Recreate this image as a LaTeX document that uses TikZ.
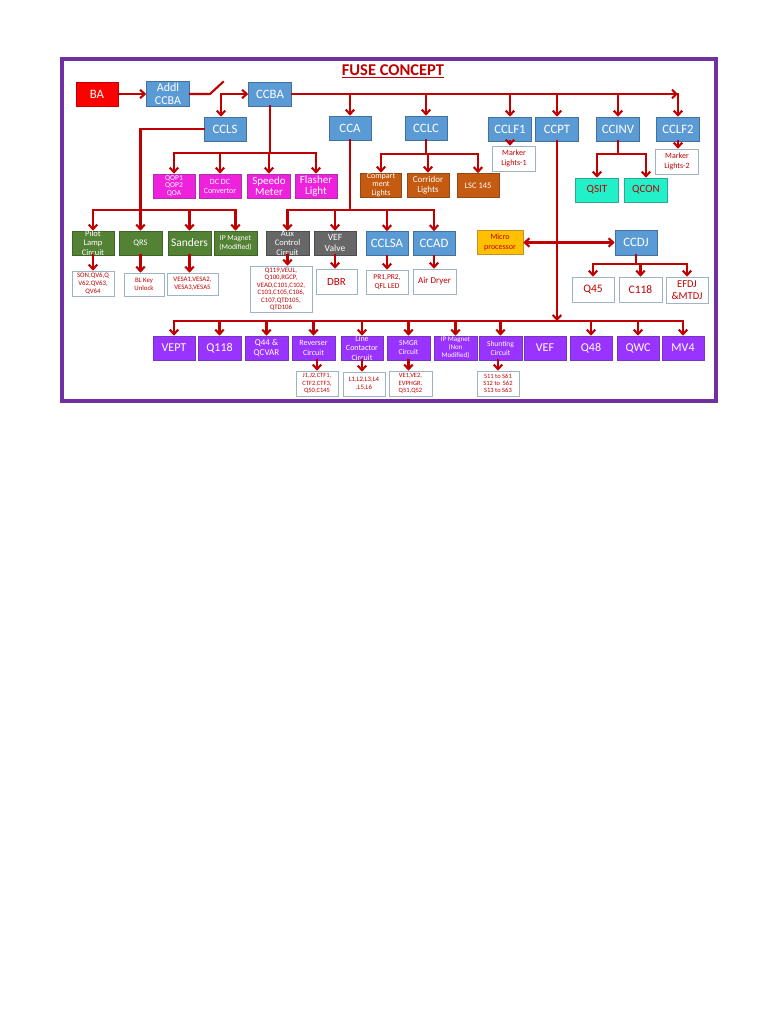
\documentclass[tikz,border=0pt]{standalone}
\usepackage{fontspec}
\setmainfont{Carlito}
\usetikzlibrary{arrows.meta}
\definecolor{cred}{HTML}{C00000}
\definecolor{cRedF}{HTML}{FF0000}
\definecolor{cblue}{HTML}{5B9BD5}
\definecolor{cblueD}{HTML}{41719C}
\definecolor{cmag}{HTML}{EE22DD}
\definecolor{cmagD}{HTML}{B030A8}
\definecolor{cbrown}{HTML}{C55A11}
\definecolor{cbrownD}{HTML}{8F4A1A}
\definecolor{cgreen}{HTML}{548235}
\definecolor{cgreenD}{HTML}{3F6228}
\definecolor{cgrey}{HTML}{676767}
\definecolor{cgreyD}{HTML}{4D4D4D}
\definecolor{cpur}{HTML}{9933FF}
\definecolor{cpurD}{HTML}{7A35C0}
\definecolor{cyel}{HTML}{FFC000}
\definecolor{cyelD}{HTML}{C09020}
\definecolor{ccyan}{HTML}{22F0C8}
\definecolor{ccyanD}{HTML}{30A890}
\definecolor{csub}{HTML}{9DB3C8}
\definecolor{cframe}{HTML}{7030A0}
\tikzset{
 fs/.style 2 args={font=\fontsize{#1}{#2}\selectfont},
 bx/.style={rectangle, minimum width=42pt, minimum height=24pt, inner sep=0pt, align=center, line width=0.7pt, text=white},
 blu/.style={bx, fill=cblue, draw=cblueD, fs={12.8}{14}},
 mag/.style={bx, fill=cmag, draw=cmagD},
 brn/.style={bx, fill=cbrown, draw=cbrownD},
 grn/.style={bx, fill=cgreen, draw=cgreenD},
 gry/.style={bx, fill=cgrey, draw=cgreyD},
 pur/.style={bx, fill=cpur, draw=cpurD},
 sub/.style={bx, fill=white, draw=csub, text=cred},
 ln/.style={draw=cred, line width=2.1pt, line cap=rect},
 tip/.tip={Straight Barb[length=4.5pt,width=8.5pt]},
 arr/.style={ln, -tip},
 ovl/.style={fs={8.5}{9.5}, text=white, align=center, inner sep=0pt}
}
\begin{document}
\begin{tikzpicture}[x=1pt,y=-1pt]
\fill[white] (0,0) rectangle (768,1024);
\useasboundingbox (0,0) rectangle (768,1024);
\draw[draw=cframe, line width=3.5pt] (61.8,58.8) rectangle (716.2,401.2);
\node[text=cred, font=\bfseries\fontsize{16.5}{18}\selectfont] (title) at (393,71) {\underline{FUSE CONCEPT}};

% top row
\node[bx, fill=cRedF, draw=cred, fs={12.8}{14}] (BA) at (97,94) {BA};
\node[blu, minimum width=43pt, minimum height=25pt, fs={12}{13}] (Addl) at (168,94) {Addl\\CCBA};
\node[blu, minimum width=43pt] (CCBA) at (270,94) {CCBA};
\node[blu] (CCLS) at (225,129) {CCLS};
\node[blu] (CCA) at (350,128) {CCA};
\node[blu] (CCLC) at (426,128) {CCLC};
\node[blu, minimum width=43pt] (CCLF1) at (510,129) {CCLF1};
\node[blu, minimum width=43pt] (CCPT) at (557,129) {CCPT};
\node[blu, minimum width=43pt] (CCINV) at (618,129) {CCINV};
\node[blu, minimum width=43pt] (CCLF2) at (678,129) {CCLF2};

% second row
\node[mag, fs={7.5}{7.8}] (QOP) at (174,186) {QOP1\\QOP2\\QOA};
\node[mag, fs={8}{9}] (DCDC) at (220,186) {DC DC\\Convertor};
\node[mag, minimum width=43pt, fs={11}{11.5}] (Speedo) at (269,186) {Speedo\\Meter};
\node[mag, fs={11}{11.5}] (Flasher) at (316,186) {Flasher\\Light};
\node[brn, minimum width=41pt, label={[ovl, fs={8}{8.6}]center:Compart\\ment\\Lights}] (Comp) at (381,185) {};
\node[brn, fs={9}{10}] (Corr) at (428,185) {Corridor\\Lights};
\node[brn, fs={8.5}{9}] (LSC) at (478,185.5) {LSC 145};
\node[sub, minimum width=43pt, minimum height=25pt, fs={8}{10}] (ML1) at (514,158.5) {Marker\\Lights-1};
\node[sub, minimum width=43pt, minimum height=25pt, fs={8}{10}] (ML2) at (677,161.5) {Marker\\Lights-2};
\node[bx, fill=ccyan, draw=ccyanD, text=cred, minimum width=43pt, fs={11}{12}] (QSIT) at (597,190) {QSIT};
\node[bx, fill=ccyan, draw=ccyanD, text=cred, minimum width=43pt, fs={11}{12}] (QCON) at (646,190) {QCON};

% third row
\node[grn, label={[ovl]center:Pilot\\Lamp\\Circuit}] (Pilot) at (93,243) {};
\node[grn, minimum width=43pt, fs={8.5}{9}] (QRS) at (140.5,243) {QRS};
\node[grn, minimum width=43pt, fs={11.5}{12}] (Sand) at (189.5,243) {Sanders};
\node[grn, minimum width=43pt, fs={7.5}{9}] (IPMag) at (235.5,243) {IP Magnet\\(Modified)};
\node[gry, minimum width=43pt, label={[ovl]center:Aux\\Control\\Circuit}] (Aux) at (287.5,243) {};
\node[gry, fs={9.5}{11}] (VEFV) at (335,243) {VEF\\Valve};
\node[blu] (CCLSA) at (387,243.5) {CCLSA};
\node[blu] (CCAD) at (434,243.5) {CCAD};
\node[bx, fill=cyel, draw=cyelD, text=cred, minimum width=46pt, fs={8}{10}] (Micro) at (500,242.5) {Micro\\processor};
\node[blu, minimum height=25pt] (CCDJ) at (636,242.5) {CCDJ};

% third row subs
\node[sub, minimum height=25pt, fs={6.8}{7.7}] (PilotS) at (93,283.5) {SON,QV6,Q\\V62,QV63,\\QV64};
\node[sub, minimum width=40pt, minimum height=23pt, fs={6.8}{8}] (QRSS) at (144,284.5) {BL Key\\Unlock};
\node[sub, minimum width=51pt, minimum height=22pt, fs={6.8}{8}] (SandS) at (192.5,284) {VESA1,VESA2,\\VESA3,VESA5};
\node[sub, minimum width=62pt, minimum height=46pt, fs={6.8}{7.5}] (AuxS) at (281,289) {Q119,VEUL,\\Q100,RGCP,\\VEAD,C101,C102,\\C103,C105,C106,\\C107,QTD105,\\QTD106};
\node[sub, minimum width=41pt, minimum height=25pt, fs={11}{12}] (DBR) at (336.5,281.5) {DBR};
\node[sub, fs={7.5}{8.5}] (PRS) at (387,282) {PR1,PR2,\\QFL LED};
\node[sub, minimum width=43pt, minimum height=25pt, fs={9}{10}] (AirD) at (434.5,281.5) {Air Dryer};
\node[sub, minimum height=25pt, fs={11.5}{12}] (Q45) at (593,289.5) {Q45};
\node[sub, minimum width=43pt, minimum height=25pt, fs={11.5}{12}] (C118) at (640.5,289.5) {C118};
\node[sub, minimum height=26pt, fs={10.5}{12}] (EFDJ) at (687,290) {EFDJ\\\&MTDJ};

% bottom row
\node[pur, fs={12}{13}] (VEPT) at (174,348) {VEPT};
\node[pur, minimum width=43pt, fs={12}{13}] (Q118) at (219.5,348) {Q118};
\node[pur, minimum width=43pt, fs={9}{10}] (Q44) at (266.5,348) {Q44 \&\\QCVAR};
\node[pur, minimum width=43pt, fs={8}{9.5}] (Rev) at (313.5,348) {Reverser\\Circuit};
\node[pur, label={[ovl, fs={8}{9.5}]center:Line\\Contactor\\Circuit}] (LC) at (362,348) {};
\node[pur, minimum width=43pt, fs={7.5}{9}] (SMGR) at (408.5,348) {SMGR\\Circuit};
\node[pur, minimum width=43pt, label={[ovl, fs={7}{8}]center:IP Magnet\\(Non\\Modified)}] (IPNM) at (455.5,348) {};
\node[pur, minimum width=43pt, fs={7.5}{9}] (Shunt) at (500.5,348) {Shunting\\Circuit};
\node[pur, fs={12}{13}] (VEF) at (545,348) {VEF};
\node[pur, fs={12}{13}] (Q48) at (591,348) {Q48};
\node[pur, fs={12}{13}] (QWC) at (638,348) {QWC};
\node[pur, fs={12}{13}] (MV4) at (683,348) {MV4};

% bottom subs
\node[sub, minimum height=25pt, fs={6.5}{7.3}] (RevS) at (317,383.5) {J1,J2,CTF1,\\CTF2,CTF3,\\Q50,C145};
\node[sub, fs={6.8}{8}] (LCS) at (364,384) {L1,L2,L3,L4\\,L5,L6};
\node[sub, minimum width=43pt, minimum height=25pt, fs={6.5}{7.3}] (SMGRS) at (410.5,383.5) {VE1,VE2,\\EVPHGR,\\Q51,Q52};
\node[sub, minimum height=25pt, fs={6.5}{7.3}] (ShuntS) at (498,383.5) {S11 to S61\\S12 to \ S62\\S13 to S63};

% coordinates
\coordinate (sw1) at (210,94);
\coordinate (swt) at (223,82);
\coordinate (sw2) at (221,94);
\coordinate (b2) at (0,153);
\coordinate (b2b) at (0,154);
\coordinate (b3) at (0,210);
\coordinate (b5) at (0,264);
\coordinate (b6) at (0,321);

% connectors top
\draw[arr] (BA.east) -- (Addl.west);
\draw[ln] (Addl.east) -- (sw1) -- (swt);
\draw[arr] (sw2) -- (CCBA.west);
\draw[arr] (sw2) -- (CCLS.north -| sw2);
\draw[arr] (CCBA.east) -- (CCLF2.north |- CCBA.east);
\draw[arr] (CCLF2.north |- CCBA.east) -- (CCLF2.north);
\foreach \n in {CCA,CCLC,CCLF1,CCPT,CCINV}
  \draw[arr] (\n.north |- CCBA.east) -- (\n.north);

% CCBA down
\draw[ln] (CCBA.south) -- (CCBA.south |- b2);
\draw[ln] (QOP.north |- b2) -- (Flasher.north |- b2);
\foreach \n in {QOP,DCDC,Speedo,Flasher}
  \draw[arr] (\n.north |- b2) -- (\n.north);

% CCLC down
\draw[ln] (CCLC.south) -- (CCLC.south |- b2b);
\draw[ln] (Comp.north |- b2b) -- (LSC.north |- b2b);
\foreach \n in {Comp,Corr,LSC}
  \draw[arr] (\n.north |- b2b) -- (\n.north);

% CCINV down
\draw[ln] (CCINV.south) -- (CCINV.south |- b2b);
\draw[ln] (QSIT.north |- b2b) -- (QCON.north |- b2b);
\foreach \n in {QSIT,QCON}
  \draw[arr] (\n.north |- b2b) -- (\n.north);

% marker lights
\draw[arr] (CCLF1.south) -- (CCLF1.south |- ML1.north);
\draw[arr] (CCLF2.south) -- (CCLF2.south |- ML2.north);

% CCLS left
\draw[ln] (CCLS.west) -| (QRS.north |- b3);
\draw[ln] (Pilot.north |- b3) -- (IPMag.north |- b3);
\foreach \n in {Pilot,QRS,Sand,IPMag}
  \draw[arr] (\n.north |- b3) -- (\n.north);

% CCA down
\draw[ln] (CCA.south) -- (CCA.south |- b3);
\draw[ln] (Aux.north |- b3) -- (CCAD.north |- b3);
\foreach \n in {Aux,VEFV,CCLSA,CCAD}
  \draw[arr] (\n.north |- b3) -- (\n.north);

% row3 subs
\draw[arr] (Pilot.south) -- (Pilot.south |- PilotS.north);
\draw[arr] (QRS.south) -- (QRS.south |- QRSS.north);
\draw[arr] (Sand.south) -- (Sand.south |- SandS.north);
\draw[arr] (Aux.south) -- (Aux.south |- AuxS.north);
\draw[arr] (VEFV.south) -- (VEFV.south |- DBR.north);
\draw[arr] (CCLSA.south) -- (CCLSA.south |- PRS.north);
\draw[arr] (CCAD.south) -- (CCAD.south |- AirD.north);

% micro <-> CCDJ
\draw[ln, tip-tip] (Micro.east) -- (CCDJ.west);

% CCDJ down
\draw[ln] (CCDJ.south) -- (CCDJ.south |- b5);
\draw[ln] (Q45.north |- b5) -- (EFDJ.north |- b5);
\foreach \n in {Q45,C118,EFDJ}
  \draw[arr] (\n.north |- b5) -- (\n.north);

% CCPT down to bottom bus
\draw[arr] (CCPT.south) -- (CCPT.south |- b6);
\draw[ln] (VEPT.north |- b6) -- (MV4.north |- b6);
\foreach \n in {VEPT,Q118,Q44,Rev,LC,SMGR,IPNM,Shunt,Q48,QWC,MV4}
  \draw[arr] (\n.north |- b6) -- (\n.north);

% bottom subs
\draw[arr] (RevS.north |- Rev.south) -- (RevS.north);
\draw[arr] (LC.south) -- (LC.south |- LCS.north);
\draw[arr] (SMGR.south) -- (SMGR.south |- SMGRS.north);
\draw[arr] (ShuntS.north |- Shunt.south) -- (ShuntS.north);
\end{tikzpicture}
\end{document}
